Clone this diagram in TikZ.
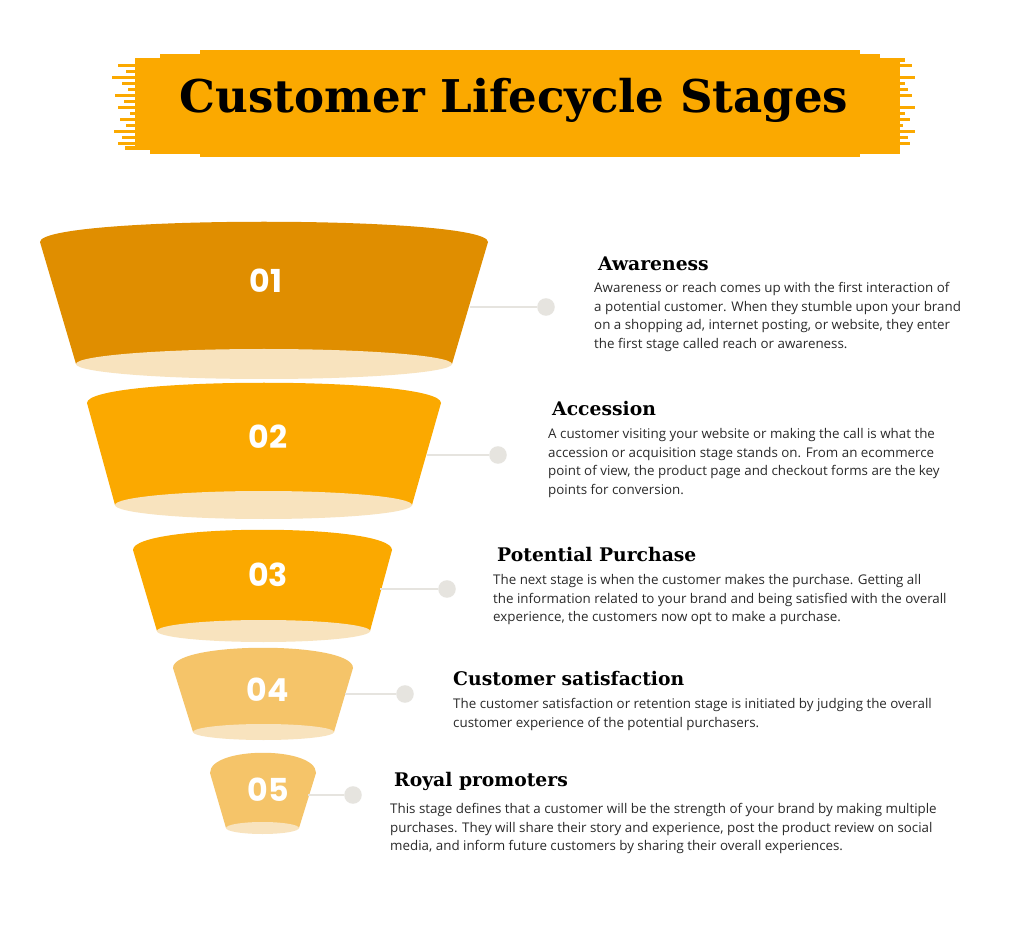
\documentclass[tikz,border=0pt]{standalone}
\usepackage{fontspec}
\setmainfont{Open Sans}
\newfontfamily\numfont{Poppins}
\newfontfamily\slabfont{DejaVu Serif}
\usetikzlibrary{positioning}
\definecolor{DarkAmber}{HTML}{E08E00}
\definecolor{Amber}{HTML}{FBA900}
\definecolor{PaleAmber}{HTML}{F5C469}
\definecolor{Cream}{HTML}{F8E3BE}
\definecolor{Wire}{HTML}{E6E4DF}
\definecolor{Ink}{HTML}{2A2A2A}
\tikzset{
  numtext/.style={text=white, font=\numfont\bfseries\fontsize{27}{27}\selectfont},
  headtext/.style={anchor=south west, inner sep=0pt, font=\slabfont\bfseries\fontsize{16}{18}\selectfont},
  bodytext/.style={anchor=north west, inner sep=0pt, align=left, text=Ink,
                   font=\fontsize{11.4}{16}\selectfont},
  knob/.style={circle, fill=Wire, minimum size=15pt, inner sep=0pt},
  wire/.style={draw=Wire, line width=2pt}
}
% funnel piece: top y, top left x, top right x, bottom y, bottom left x, bottom right x, colour, ellipse height
\newcommand{\funnelpiece}[8]{%
  \fill[#7] (#2,#1) .. controls (#2,#1-27) and (#3,#1-27) .. (#3,#1)
    -- (#6,#4) -- (#5,#4) -- cycle;
  \fill[Cream] ({(#5+#6)/2},#4) ellipse ({(#6-#5)/2} and #8);
}
\begin{document}
\begin{tikzpicture}[x=0.03cm, y=-0.03cm]
    \useasboundingbox[fill=white] (0,0) rectangle (1028,934);

    % Title band
    \fill[Amber] (135,58) rectangle (900,150);
    \foreach \ya/\yb/\xa/\xb in {50/54/200/860, 54/58/160/880, 58/62/140/905, 64/67/118/912, 70/73/126/900, 76/79/112/915,
        82/85/122/905, 88/91/128/908, 94/97/115/912, 100/103/124/900, 106/109/118/915, 112/115/130/905,
        118/121/120/910, 124/127/126/903, 130/133/114/915, 136/139/122/908, 142/145/118/910, 146/150/125/895, 150/154/150/900, 154/157/200/860}
        \fill[Amber] (\xa,\ya) rectangle (\xb,\yb);
    \node[font=\slabfont\bfseries\fontsize{38.5}{38.5}\selectfont] (title) at (514,100) {Customer Lifecycle Stages};

    % Funnel
    \funnelpiece{242}{40}{488}{364}{76}{452}{DarkAmber}{15}
    \funnelpiece{403}{87}{441}{505}{115}{412}{Amber}{14}
    \funnelpiece{550}{133}{392}{631}{157}{370}{Amber}{11}
    \funnelpiece{668}{173}{353}{732}{193}{334}{PaleAmber}{8}
    \funnelpiece{773}{210}{316}{828}{226}{299}{PaleAmber}{6}

    \node[numtext] (n1) at (266,281) {01};
    \node[numtext] (n2) at (268,437) {02};
    \node[numtext] (n3) at (268,575) {03};
    \node[numtext] (n4) at (268,690) {04};
    \node[numtext] (n5) at (268,790) {05};

    % Connectors
    \coordinate (c1) at (470,307);
    \coordinate (c2) at (427,455);
    \coordinate (c3) at (380,589);
    \coordinate (c4) at (345,694);
    \coordinate (c5) at (308,795);
    \node[knob] (k1) at (546,307) {};
    \node[knob] (k2) at (498,455) {};
    \node[knob] (k3) at (447,589) {};
    \node[knob] (k4) at (405,694) {};
    \node[knob] (k5) at (353,795) {};
    \foreach \i in {1,...,5}
        \draw[wire] (c\i) -- (k\i);

    % Stage texts
    \node[headtext] (h1) at (598,271) {Awareness};
    \node[bodytext] (b1) at (594,282) {Awareness or reach comes up with the first interaction of\\a potential customer. When they stumble upon your brand\\on a shopping ad, internet posting, or website, they enter\\the first stage called reach or awareness.};
    \node[headtext] (h2) at (552,416) {Accession};
    \node[bodytext] (b2) at (548,428) {A customer visiting your website or making the call is what the\\accession or acquisition stage stands on. From an ecommerce\\point of view, the product page and checkout forms are the key\\points for conversion.};
    \node[headtext] (h3) at (497,562) {Potential Purchase};
    \node[bodytext] (b3) at (493,574) {The next stage is when the customer makes the purchase. Getting all\\the information related to your brand and being satisfied with the overall\\experience, the customers now opt to make a purchase.};
    \node[headtext] (h4) at (453,686) {Customer satisfaction};
    \node[bodytext] (b4) at (453,698) {The customer satisfaction or retention stage is initiated by judging the overall\\customer experience of the potential purchasers.};
    \node[headtext] (h5) at (394,791) {Royal promoters};
    \node[bodytext] (b5) at (390,803) {This stage defines that a customer will be the strength of your brand by making multiple\\purchases. They will share their story and experience, post the product review on social\\media, and inform future customers by sharing their overall experiences.};
\end{tikzpicture}
\end{document}
